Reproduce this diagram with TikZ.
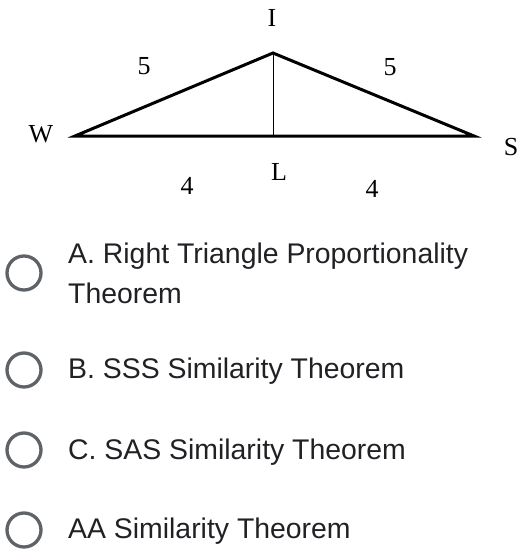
\documentclass[tikz,border=0pt]{standalone}
\usepackage{fontspec}
\setmainfont{Liberation Serif}
\newfontfamily\optfont{Liberation Sans}
\definecolor{opttext}{HTML}{202124}
\definecolor{optring}{HTML}{5F6368}
\begin{document}
\begin{tikzpicture}[x=1pt,y=-1pt,
  lbl/.style={font=\fontsize{26}{30}\selectfont, inner sep=0pt, anchor=base},
  opt/.style={font=\optfont\fontsize{28.4}{40}\selectfont, text=opttext, inner sep=0pt, anchor=base west},
  ring/.style={draw=optring, line width=3.3pt, circle, minimum size=34pt, inner sep=0pt}]
\useasboundingbox (0,0) rectangle (530,554);
\coordinate (W) at (75,136);
\coordinate (S) at (474,136);
\coordinate (I) at (273,53);
\coordinate (L) at (273,136);
\draw[line width=3pt, line join=miter] (W) -- (I) -- (S) -- cycle;
\draw[line width=0.8pt] (I) -- (L);
\node[lbl] (tI) at (272,27) {I};
\node[lbl] (t5a) at (144,74) {5};
\node[lbl] (t5b) at (390,75) {5};
\node[lbl] (tW) at (41,142) {W};
\node[lbl] (tS) at (511,155) {S};
\node[lbl] (tL) at (279,180) {L};
\node[lbl] (t4a) at (187,194) {4};
\node[lbl] (t4b) at (372,197) {4};
\node[ring] (rA) at (24,273) {};
\node[ring] (rB) at (24,370) {};
\node[ring] (rC) at (24,450) {};
\node[ring] (rD) at (24,530) {};
\node[opt] (oA1) at (68,263) {A. Right Triangle Proportionality};
\node[opt] (oA2) at (68,303) {Theorem};
\node[opt] (oB) at (68,378) {B. SSS Similarity Theorem};
\node[opt] (oC) at (68,459) {C. SAS Similarity Theorem};
\node[opt] (oD) at (68,538) {AA Similarity Theorem};
\end{tikzpicture}
\end{document}
